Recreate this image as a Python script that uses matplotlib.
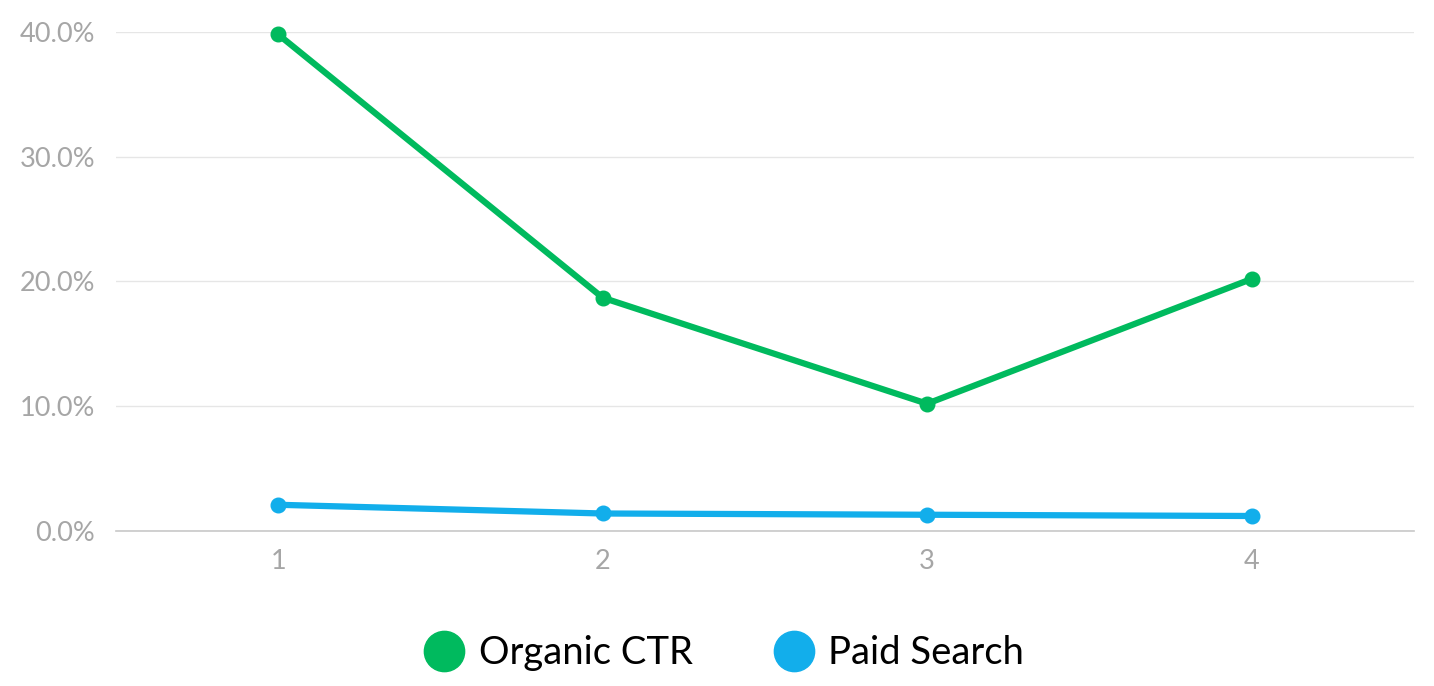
import matplotlib.pyplot as plt
from matplotlib.lines import Line2D
from matplotlib.ticker import FuncFormatter

positions = [1, 2, 3, 4]
organic_ctr = [39.8, 18.7, 10.2, 20.2]
paid_search = [2.1, 1.4, 1.3, 1.2]
series_names = ['Organic CTR', 'Paid Search']
colors = ['#00ba5e', '#12aeeb']

plt.rcParams['font.family'] = ['Lato', 'DejaVu Sans']

fig = plt.figure(figsize=(14.34, 6.86), dpi=100)
ax = fig.add_axes([0.0809, 0.226, 0.905, 0.7274])

for vals, c in zip([organic_ctr, paid_search], colors):
    ax.plot(positions, vals, color=c, lw=4.5, marker='o', ms=10.5,
            solid_capstyle='round', clip_on=False, zorder=3)

ax.set_xlim(0.5, 4.5)
ax.set_ylim(0, 40)
ax.set_yticks([0, 10, 20, 30, 40])
ax.set_xticks(positions)
ax.yaxis.set_major_formatter(FuncFormatter(lambda v, p: f'{v:.1f}%'))
ax.grid(axis='y', color='#e6e6e6', lw=1)
ax.set_axisbelow(True)
for s in ['top', 'right', 'left']:
    ax.spines[s].set_visible(False)
ax.spines['bottom'].set_color('#c8c8c8')
ax.spines['bottom'].set_linewidth(1.2)
ax.tick_params(length=0, labelsize=19.5, colors='#a6a6a6', pad=13)
ax.tick_params(axis='y', pad=15)

handles = [Line2D([], [], ls='', marker='o', ms=29, color=c) for c in colors]
fig.legend(handles, series_names, loc='center', bbox_to_anchor=(0.504, 0.048),
           ncol=2, frameon=False, fontsize=27.5, handletextpad=0.3,
           columnspacing=2.05, handlelength=1.2)

fig.savefig('out.png', dpi=100)
